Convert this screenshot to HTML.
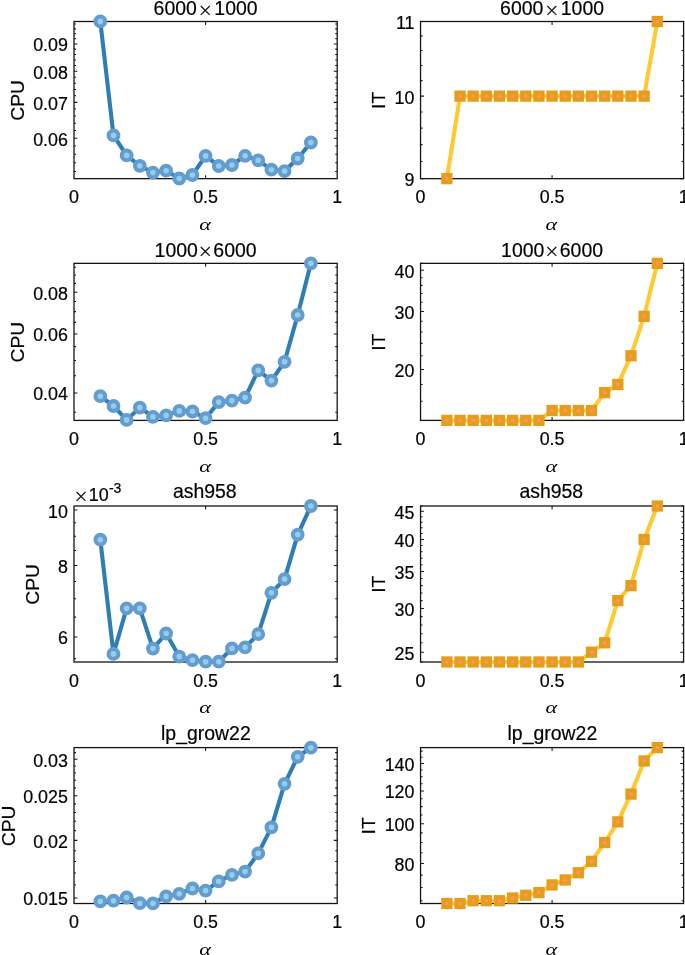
<!DOCTYPE html>
<html lang="en"><head><meta charset="utf-8"><title>CPU and IT versus alpha</title>
<style>
html,body{margin:0;padding:0;background:#fff}
svg{display:block}
text{font-family:"Liberation Sans",sans-serif;fill:#000;stroke:#000;stroke-width:0.2px}
.tk{font-size:17.85px}
.lb{font-size:19.25px}
.ti{font-size:19.45px;fill:#000}
.tx{font-family:"DejaVu Sans","Liberation Sans",sans-serif;font-weight:200;font-size:18px;stroke:#000;stroke-width:0.3px}
.tx2{font-size:22px;stroke:none}
.sup{font-size:14px}
.al{font-family:"Liberation Serif","DejaVu Serif",serif;font-style:italic;font-size:17.6px;stroke:none}
</style></head><body>
<svg width="685" height="955" viewBox="0 0 685 955">
<rect width="685" height="955" fill="#fff"/>
<rect x="74.00" y="21.50" width="263.20" height="157.15" fill="#fff" stroke="#151515" stroke-width="1.3"/>
<path d="M74.00 43.90h3.4M337.20 43.90h-3.4M74.00 71.29h3.4M337.20 71.29h-3.4M74.00 102.35h3.4M337.20 102.35h-3.4M74.00 138.20h3.4M337.20 138.20h-3.4M74.00 171.48h2.0M337.20 171.48h-2.0M74.00 162.70h2.0M337.20 162.70h-2.0M74.00 154.25h2.0M337.20 154.25h-2.0M74.00 146.08h2.0M337.20 146.08h-2.0M74.00 130.57h2.0M337.20 130.57h-2.0M74.00 123.19h2.0M337.20 123.19h-2.0M74.00 116.03h2.0M337.20 116.03h-2.0M74.00 109.09h2.0M337.20 109.09h-2.0M74.00 95.80h2.0M337.20 95.80h-2.0M74.00 89.42h2.0M337.20 89.42h-2.0M74.00 83.22h2.0M337.20 83.22h-2.0M74.00 77.18h2.0M337.20 77.18h-2.0M74.00 65.55h2.0M337.20 65.55h-2.0M74.00 59.95h2.0M337.20 59.95h-2.0M74.00 54.47h2.0M337.20 54.47h-2.0M74.00 49.13h2.0M337.20 49.13h-2.0M74.00 38.79h2.0M337.20 38.79h-2.0M74.00 33.79h2.0M337.20 33.79h-2.0M74.00 28.89h2.0M337.20 28.89h-2.0M74.00 24.09h2.0M337.20 24.09h-2.0M205.60 178.65v-3.4M205.60 21.50v3.4" stroke="#151515" stroke-width="1.05" fill="none"/>
<text x="205.60" y="14.70" class="ti" text-anchor="middle">6000<tspan class="tx" dx="0.95" dy="0.9">×</tspan><tspan dx="1.45" dy="-0.9">1000</tspan></text>
<text x="74.00" y="203.35" class="tk" text-anchor="middle">0</text>
<text x="205.60" y="203.35" class="tk" text-anchor="middle">0.5</text>
<text x="337.20" y="203.35" class="tk" text-anchor="middle">1</text>
<text transform="translate(205.00 229.95) scale(1.27 1)" class="al" text-anchor="middle">α</text>
<text x="67.90" y="51.30" class="tk" text-anchor="end">0.09</text>
<text x="67.90" y="78.69" class="tk" text-anchor="end">0.08</text>
<text x="67.90" y="109.75" class="tk" text-anchor="end">0.07</text>
<text x="67.90" y="145.60" class="tk" text-anchor="end">0.06</text>
<polyline points="100.32,21.40 113.48,135.40 126.64,155.40 139.80,165.80 152.96,172.60 166.12,170.70 179.28,178.50 192.44,175.00 205.60,155.90 218.76,166.00 231.92,165.00 245.08,155.80 258.24,160.30 271.40,169.70 284.56,171.10 297.72,158.50 310.88,142.50" fill="none" stroke="#2e7eb4" stroke-width="4.1" stroke-linejoin="round"/>
<circle cx="100.32" cy="21.40" r="4.85" fill="#93cfe7" stroke="#659cd0" stroke-width="4.1"/>
<circle cx="113.48" cy="135.40" r="4.85" fill="#93cfe7" stroke="#659cd0" stroke-width="4.1"/>
<circle cx="126.64" cy="155.40" r="4.85" fill="#93cfe7" stroke="#659cd0" stroke-width="4.1"/>
<circle cx="139.80" cy="165.80" r="4.85" fill="#93cfe7" stroke="#659cd0" stroke-width="4.1"/>
<circle cx="152.96" cy="172.60" r="4.85" fill="#93cfe7" stroke="#659cd0" stroke-width="4.1"/>
<circle cx="166.12" cy="170.70" r="4.85" fill="#93cfe7" stroke="#659cd0" stroke-width="4.1"/>
<circle cx="179.28" cy="178.50" r="4.85" fill="#93cfe7" stroke="#659cd0" stroke-width="4.1"/>
<circle cx="192.44" cy="175.00" r="4.85" fill="#93cfe7" stroke="#659cd0" stroke-width="4.1"/>
<circle cx="205.60" cy="155.90" r="4.85" fill="#93cfe7" stroke="#659cd0" stroke-width="4.1"/>
<circle cx="218.76" cy="166.00" r="4.85" fill="#93cfe7" stroke="#659cd0" stroke-width="4.1"/>
<circle cx="231.92" cy="165.00" r="4.85" fill="#93cfe7" stroke="#659cd0" stroke-width="4.1"/>
<circle cx="245.08" cy="155.80" r="4.85" fill="#93cfe7" stroke="#659cd0" stroke-width="4.1"/>
<circle cx="258.24" cy="160.30" r="4.85" fill="#93cfe7" stroke="#659cd0" stroke-width="4.1"/>
<circle cx="271.40" cy="169.70" r="4.85" fill="#93cfe7" stroke="#659cd0" stroke-width="4.1"/>
<circle cx="284.56" cy="171.10" r="4.85" fill="#93cfe7" stroke="#659cd0" stroke-width="4.1"/>
<circle cx="297.72" cy="158.50" r="4.85" fill="#93cfe7" stroke="#659cd0" stroke-width="4.1"/>
<circle cx="310.88" cy="142.50" r="4.85" fill="#93cfe7" stroke="#659cd0" stroke-width="4.1"/>
<text transform="translate(24.20 100.38) rotate(-90)" class="lb" text-anchor="middle">CPU</text>
<rect x="420.55" y="21.50" width="263.05" height="157.15" fill="#fff" stroke="#151515" stroke-width="1.3"/>
<path d="M420.55 21.50h3.4M683.60 21.50h-3.4M420.55 96.14h3.4M683.60 96.14h-3.4M420.55 178.65h3.4M683.60 178.65h-3.4M420.55 161.44h2.0M683.60 161.44h-2.0M420.55 144.60h2.0M683.60 144.60h-2.0M420.55 128.11h2.0M683.60 128.11h-2.0M420.55 111.96h2.0M683.60 111.96h-2.0M420.55 80.63h2.0M683.60 80.63h-2.0M420.55 65.42h2.0M683.60 65.42h-2.0M420.55 50.51h2.0M683.60 50.51h-2.0M420.55 35.87h2.0M683.60 35.87h-2.0M552.08 178.65v-3.4M552.08 21.50v3.4" stroke="#151515" stroke-width="1.05" fill="none"/>
<text x="552.08" y="14.70" class="ti" text-anchor="middle">6000<tspan class="tx" dx="0.95" dy="0.9">×</tspan><tspan dx="1.45" dy="-0.9">1000</tspan></text>
<text x="420.55" y="203.35" class="tk" text-anchor="middle">0</text>
<text x="552.08" y="203.35" class="tk" text-anchor="middle">0.5</text>
<text x="683.60" y="203.35" class="tk" text-anchor="middle">1</text>
<text transform="translate(551.48 229.95) scale(1.27 1)" class="al" text-anchor="middle">α</text>
<text x="414.45" y="28.90" class="tk" text-anchor="end">11</text>
<text x="414.45" y="103.54" class="tk" text-anchor="end">10</text>
<text x="414.45" y="186.05" class="tk" text-anchor="end">9</text>
<polyline points="446.86,178.65 460.01,96.14 473.16,96.14 486.31,96.14 499.47,96.14 512.62,96.14 525.77,96.14 538.92,96.14 552.08,96.14 565.23,96.14 578.38,96.14 591.53,96.14 604.69,96.14 617.84,96.14 630.99,96.14 644.14,96.14 657.30,21.50" fill="none" stroke="#fec931" stroke-width="4.1" stroke-linejoin="round"/>
<rect x="443.31" y="175.10" width="7.1" height="7.1" fill="#fd9679" stroke="#e69d1c" stroke-width="4.2"/>
<rect x="456.46" y="92.59" width="7.1" height="7.1" fill="#fd9679" stroke="#e69d1c" stroke-width="4.2"/>
<rect x="469.61" y="92.59" width="7.1" height="7.1" fill="#fd9679" stroke="#e69d1c" stroke-width="4.2"/>
<rect x="482.76" y="92.59" width="7.1" height="7.1" fill="#fd9679" stroke="#e69d1c" stroke-width="4.2"/>
<rect x="495.92" y="92.59" width="7.1" height="7.1" fill="#fd9679" stroke="#e69d1c" stroke-width="4.2"/>
<rect x="509.07" y="92.59" width="7.1" height="7.1" fill="#fd9679" stroke="#e69d1c" stroke-width="4.2"/>
<rect x="522.22" y="92.59" width="7.1" height="7.1" fill="#fd9679" stroke="#e69d1c" stroke-width="4.2"/>
<rect x="535.37" y="92.59" width="7.1" height="7.1" fill="#fd9679" stroke="#e69d1c" stroke-width="4.2"/>
<rect x="548.53" y="92.59" width="7.1" height="7.1" fill="#fd9679" stroke="#e69d1c" stroke-width="4.2"/>
<rect x="561.68" y="92.59" width="7.1" height="7.1" fill="#fd9679" stroke="#e69d1c" stroke-width="4.2"/>
<rect x="574.83" y="92.59" width="7.1" height="7.1" fill="#fd9679" stroke="#e69d1c" stroke-width="4.2"/>
<rect x="587.98" y="92.59" width="7.1" height="7.1" fill="#fd9679" stroke="#e69d1c" stroke-width="4.2"/>
<rect x="601.14" y="92.59" width="7.1" height="7.1" fill="#fd9679" stroke="#e69d1c" stroke-width="4.2"/>
<rect x="614.29" y="92.59" width="7.1" height="7.1" fill="#fd9679" stroke="#e69d1c" stroke-width="4.2"/>
<rect x="627.44" y="92.59" width="7.1" height="7.1" fill="#fd9679" stroke="#e69d1c" stroke-width="4.2"/>
<rect x="640.59" y="92.59" width="7.1" height="7.1" fill="#fd9679" stroke="#e69d1c" stroke-width="4.2"/>
<rect x="653.75" y="17.95" width="7.1" height="7.1" fill="#fd9679" stroke="#e69d1c" stroke-width="4.2"/>
<text transform="translate(385.10 100.38) rotate(-90)" class="lb" text-anchor="middle">IT</text>
<rect x="74.00" y="263.35" width="263.20" height="157.05" fill="#fff" stroke="#151515" stroke-width="1.3"/>
<path d="M74.00 292.20h3.4M337.20 292.20h-3.4M74.00 333.99h3.4M337.20 333.99h-3.4M74.00 392.90h3.4M337.20 392.90h-3.4M74.00 412.30h2.0M337.20 412.30h-2.0M74.00 375.79h2.0M337.20 375.79h-2.0M74.00 360.48h2.0M337.20 360.48h-2.0M74.00 346.64h2.0M337.20 346.64h-2.0M74.00 322.37h2.0M337.20 322.37h-2.0M74.00 311.60h2.0M337.20 311.60h-2.0M74.00 301.58h2.0M337.20 301.58h-2.0M74.00 283.39h2.0M337.20 283.39h-2.0M74.00 275.09h2.0M337.20 275.09h-2.0M74.00 267.23h2.0M337.20 267.23h-2.0M205.60 420.40v-3.4M205.60 263.35v3.4" stroke="#151515" stroke-width="1.05" fill="none"/>
<text x="205.60" y="256.55" class="ti" text-anchor="middle">1000<tspan class="tx" dx="-0.05" dy="0.9">×</tspan><tspan dx="0.45" dy="-0.9">6000</tspan></text>
<text x="74.00" y="445.10" class="tk" text-anchor="middle">0</text>
<text x="205.60" y="445.10" class="tk" text-anchor="middle">0.5</text>
<text x="337.20" y="445.10" class="tk" text-anchor="middle">1</text>
<text transform="translate(205.00 471.70) scale(1.27 1)" class="al" text-anchor="middle">α</text>
<text x="67.90" y="299.60" class="tk" text-anchor="end">0.08</text>
<text x="67.90" y="341.39" class="tk" text-anchor="end">0.06</text>
<text x="67.90" y="400.30" class="tk" text-anchor="end">0.04</text>
<polyline points="100.32,396.20 113.48,406.00 126.64,419.90 139.80,407.60 152.96,416.80 166.12,415.40 179.28,410.90 192.44,411.50 205.60,418.20 218.76,402.10 231.92,400.60 245.08,397.60 258.24,370.40 271.40,380.60 284.56,361.80 297.72,315.00 310.88,263.30" fill="none" stroke="#2e7eb4" stroke-width="4.1" stroke-linejoin="round"/>
<circle cx="100.32" cy="396.20" r="4.85" fill="#93cfe7" stroke="#659cd0" stroke-width="4.1"/>
<circle cx="113.48" cy="406.00" r="4.85" fill="#93cfe7" stroke="#659cd0" stroke-width="4.1"/>
<circle cx="126.64" cy="419.90" r="4.85" fill="#93cfe7" stroke="#659cd0" stroke-width="4.1"/>
<circle cx="139.80" cy="407.60" r="4.85" fill="#93cfe7" stroke="#659cd0" stroke-width="4.1"/>
<circle cx="152.96" cy="416.80" r="4.85" fill="#93cfe7" stroke="#659cd0" stroke-width="4.1"/>
<circle cx="166.12" cy="415.40" r="4.85" fill="#93cfe7" stroke="#659cd0" stroke-width="4.1"/>
<circle cx="179.28" cy="410.90" r="4.85" fill="#93cfe7" stroke="#659cd0" stroke-width="4.1"/>
<circle cx="192.44" cy="411.50" r="4.85" fill="#93cfe7" stroke="#659cd0" stroke-width="4.1"/>
<circle cx="205.60" cy="418.20" r="4.85" fill="#93cfe7" stroke="#659cd0" stroke-width="4.1"/>
<circle cx="218.76" cy="402.10" r="4.85" fill="#93cfe7" stroke="#659cd0" stroke-width="4.1"/>
<circle cx="231.92" cy="400.60" r="4.85" fill="#93cfe7" stroke="#659cd0" stroke-width="4.1"/>
<circle cx="245.08" cy="397.60" r="4.85" fill="#93cfe7" stroke="#659cd0" stroke-width="4.1"/>
<circle cx="258.24" cy="370.40" r="4.85" fill="#93cfe7" stroke="#659cd0" stroke-width="4.1"/>
<circle cx="271.40" cy="380.60" r="4.85" fill="#93cfe7" stroke="#659cd0" stroke-width="4.1"/>
<circle cx="284.56" cy="361.80" r="4.85" fill="#93cfe7" stroke="#659cd0" stroke-width="4.1"/>
<circle cx="297.72" cy="315.00" r="4.85" fill="#93cfe7" stroke="#659cd0" stroke-width="4.1"/>
<circle cx="310.88" cy="263.30" r="4.85" fill="#93cfe7" stroke="#659cd0" stroke-width="4.1"/>
<text transform="translate(24.20 342.18) rotate(-90)" class="lb" text-anchor="middle">CPU</text>
<rect x="420.55" y="263.35" width="263.05" height="157.05" fill="#fff" stroke="#151515" stroke-width="1.3"/>
<path d="M420.55 270.32h3.4M683.60 270.32h-3.4M420.55 311.45h3.4M683.60 311.45h-3.4M420.55 369.41h3.4M683.60 369.41h-3.4M420.55 420.40h2.0M683.60 420.40h-2.0M420.55 401.31h2.0M683.60 401.31h-2.0M420.55 384.47h2.0M683.60 384.47h-2.0M420.55 355.79h2.0M683.60 355.79h-2.0M420.55 343.35h2.0M683.60 343.35h-2.0M420.55 331.91h2.0M683.60 331.91h-2.0M420.55 321.31h2.0M683.60 321.31h-2.0M420.55 302.22h2.0M683.60 302.22h-2.0M420.55 293.56h2.0M683.60 293.56h-2.0M420.55 285.39h2.0M683.60 285.39h-2.0M420.55 277.66h2.0M683.60 277.66h-2.0M420.55 263.35h2.0M683.60 263.35h-2.0M552.08 420.40v-3.4M552.08 263.35v3.4" stroke="#151515" stroke-width="1.05" fill="none"/>
<text x="552.08" y="256.55" class="ti" text-anchor="middle">1000<tspan class="tx" dx="-0.05" dy="0.9">×</tspan><tspan dx="0.45" dy="-0.9">6000</tspan></text>
<text x="420.55" y="445.10" class="tk" text-anchor="middle">0</text>
<text x="552.08" y="445.10" class="tk" text-anchor="middle">0.5</text>
<text x="683.60" y="445.10" class="tk" text-anchor="middle">1</text>
<text transform="translate(551.48 471.70) scale(1.27 1)" class="al" text-anchor="middle">α</text>
<text x="414.45" y="277.72" class="tk" text-anchor="end">40</text>
<text x="414.45" y="318.85" class="tk" text-anchor="end">30</text>
<text x="414.45" y="376.81" class="tk" text-anchor="end">20</text>
<polyline points="446.86,420.40 460.01,420.40 473.16,420.40 486.31,420.40 499.47,420.40 512.62,420.40 525.77,420.40 538.92,420.40 552.08,410.54 565.23,410.54 578.38,410.54 591.53,410.54 604.69,392.64 617.84,384.47 630.99,355.79 644.14,316.30 657.30,263.35" fill="none" stroke="#fec931" stroke-width="4.1" stroke-linejoin="round"/>
<rect x="443.31" y="416.85" width="7.1" height="7.1" fill="#fd9679" stroke="#e69d1c" stroke-width="4.2"/>
<rect x="456.46" y="416.85" width="7.1" height="7.1" fill="#fd9679" stroke="#e69d1c" stroke-width="4.2"/>
<rect x="469.61" y="416.85" width="7.1" height="7.1" fill="#fd9679" stroke="#e69d1c" stroke-width="4.2"/>
<rect x="482.76" y="416.85" width="7.1" height="7.1" fill="#fd9679" stroke="#e69d1c" stroke-width="4.2"/>
<rect x="495.92" y="416.85" width="7.1" height="7.1" fill="#fd9679" stroke="#e69d1c" stroke-width="4.2"/>
<rect x="509.07" y="416.85" width="7.1" height="7.1" fill="#fd9679" stroke="#e69d1c" stroke-width="4.2"/>
<rect x="522.22" y="416.85" width="7.1" height="7.1" fill="#fd9679" stroke="#e69d1c" stroke-width="4.2"/>
<rect x="535.37" y="416.85" width="7.1" height="7.1" fill="#fd9679" stroke="#e69d1c" stroke-width="4.2"/>
<rect x="548.53" y="406.99" width="7.1" height="7.1" fill="#fd9679" stroke="#e69d1c" stroke-width="4.2"/>
<rect x="561.68" y="406.99" width="7.1" height="7.1" fill="#fd9679" stroke="#e69d1c" stroke-width="4.2"/>
<rect x="574.83" y="406.99" width="7.1" height="7.1" fill="#fd9679" stroke="#e69d1c" stroke-width="4.2"/>
<rect x="587.98" y="406.99" width="7.1" height="7.1" fill="#fd9679" stroke="#e69d1c" stroke-width="4.2"/>
<rect x="601.14" y="389.09" width="7.1" height="7.1" fill="#fd9679" stroke="#e69d1c" stroke-width="4.2"/>
<rect x="614.29" y="380.92" width="7.1" height="7.1" fill="#fd9679" stroke="#e69d1c" stroke-width="4.2"/>
<rect x="627.44" y="352.24" width="7.1" height="7.1" fill="#fd9679" stroke="#e69d1c" stroke-width="4.2"/>
<rect x="640.59" y="312.75" width="7.1" height="7.1" fill="#fd9679" stroke="#e69d1c" stroke-width="4.2"/>
<rect x="653.75" y="259.80" width="7.1" height="7.1" fill="#fd9679" stroke="#e69d1c" stroke-width="4.2"/>
<text transform="translate(385.10 342.18) rotate(-90)" class="lb" text-anchor="middle">IT</text>
<rect x="74.00" y="506.00" width="263.20" height="156.00" fill="#fff" stroke="#151515" stroke-width="1.3"/>
<path d="M74.00 510.00h3.4M337.20 510.00h-3.4M74.00 565.48h3.4M337.20 565.48h-3.4M74.00 637.00h3.4M337.20 637.00h-3.4M74.00 658.63h2.0M337.20 658.63h-2.0M74.00 617.10h2.0M337.20 617.10h-2.0M74.00 598.68h2.0M337.20 598.68h-2.0M74.00 581.52h2.0M337.20 581.52h-2.0M74.00 550.40h2.0M337.20 550.40h-2.0M74.00 536.19h2.0M337.20 536.19h-2.0M74.00 522.75h2.0M337.20 522.75h-2.0M205.60 662.00v-3.4M205.60 506.00v3.4" stroke="#151515" stroke-width="1.05" fill="none"/>
<text x="204.80" y="498.45" class="ti" text-anchor="middle">ash958</text>
<text x="74.00" y="686.70" class="tk" text-anchor="middle">0</text>
<text x="205.60" y="686.70" class="tk" text-anchor="middle">0.5</text>
<text x="337.20" y="686.70" class="tk" text-anchor="middle">1</text>
<text transform="translate(205.00 713.30) scale(1.27 1)" class="al" text-anchor="middle">α</text>
<text x="67.90" y="517.90" class="tk" text-anchor="end">10</text>
<text x="67.90" y="572.88" class="tk" text-anchor="end">8</text>
<text x="67.90" y="644.40" class="tk" text-anchor="end">6</text>
<polyline points="100.32,539.70 113.48,653.90 126.64,608.30 139.80,608.30 152.96,648.60 166.12,633.50 179.28,656.60 192.44,660.20 205.60,661.70 218.76,661.70 231.92,648.40 245.08,647.40 258.24,634.10 271.40,592.80 284.56,579.10 297.72,534.60 310.88,506.00" fill="none" stroke="#2e7eb4" stroke-width="4.1" stroke-linejoin="round"/>
<circle cx="100.32" cy="539.70" r="4.85" fill="#93cfe7" stroke="#659cd0" stroke-width="4.1"/>
<circle cx="113.48" cy="653.90" r="4.85" fill="#93cfe7" stroke="#659cd0" stroke-width="4.1"/>
<circle cx="126.64" cy="608.30" r="4.85" fill="#93cfe7" stroke="#659cd0" stroke-width="4.1"/>
<circle cx="139.80" cy="608.30" r="4.85" fill="#93cfe7" stroke="#659cd0" stroke-width="4.1"/>
<circle cx="152.96" cy="648.60" r="4.85" fill="#93cfe7" stroke="#659cd0" stroke-width="4.1"/>
<circle cx="166.12" cy="633.50" r="4.85" fill="#93cfe7" stroke="#659cd0" stroke-width="4.1"/>
<circle cx="179.28" cy="656.60" r="4.85" fill="#93cfe7" stroke="#659cd0" stroke-width="4.1"/>
<circle cx="192.44" cy="660.20" r="4.85" fill="#93cfe7" stroke="#659cd0" stroke-width="4.1"/>
<circle cx="205.60" cy="661.70" r="4.85" fill="#93cfe7" stroke="#659cd0" stroke-width="4.1"/>
<circle cx="218.76" cy="661.70" r="4.85" fill="#93cfe7" stroke="#659cd0" stroke-width="4.1"/>
<circle cx="231.92" cy="648.40" r="4.85" fill="#93cfe7" stroke="#659cd0" stroke-width="4.1"/>
<circle cx="245.08" cy="647.40" r="4.85" fill="#93cfe7" stroke="#659cd0" stroke-width="4.1"/>
<circle cx="258.24" cy="634.10" r="4.85" fill="#93cfe7" stroke="#659cd0" stroke-width="4.1"/>
<circle cx="271.40" cy="592.80" r="4.85" fill="#93cfe7" stroke="#659cd0" stroke-width="4.1"/>
<circle cx="284.56" cy="579.10" r="4.85" fill="#93cfe7" stroke="#659cd0" stroke-width="4.1"/>
<circle cx="297.72" cy="534.60" r="4.85" fill="#93cfe7" stroke="#659cd0" stroke-width="4.1"/>
<circle cx="310.88" cy="506.00" r="4.85" fill="#93cfe7" stroke="#659cd0" stroke-width="4.1"/>
<text transform="translate(39.00 584.30) rotate(-90)" class="lb" text-anchor="middle">CPU</text>
<text x="73.60" y="501.30" class="tk"><tspan class="tx" dy="1.0">×</tspan><tspan dx="0.15" dy="-0.9">10</tspan><tspan dy="-8.5" dx="0.25" class="sup">-3</tspan></text>
<rect x="420.55" y="506.00" width="263.05" height="156.00" fill="#fff" stroke="#151515" stroke-width="1.3"/>
<path d="M420.55 511.27h3.4M683.60 511.27h-3.4M420.55 539.51h3.4M683.60 539.51h-3.4M420.55 571.53h3.4M683.60 571.53h-3.4M420.55 608.49h3.4M683.60 608.49h-3.4M420.55 652.21h3.4M683.60 652.21h-3.4M420.55 662.00h2.0M683.60 662.00h-2.0M420.55 642.81h2.0M683.60 642.81h-2.0M420.55 633.76h2.0M683.60 633.76h-2.0M420.55 625.04h2.0M683.60 625.04h-2.0M420.55 616.62h2.0M683.60 616.62h-2.0M420.55 600.63h2.0M683.60 600.63h-2.0M420.55 593.02h2.0M683.60 593.02h-2.0M420.55 585.64h2.0M683.60 585.64h-2.0M420.55 578.48h2.0M683.60 578.48h-2.0M420.55 564.78h2.0M683.60 564.78h-2.0M420.55 558.21h2.0M683.60 558.21h-2.0M420.55 551.81h2.0M683.60 551.81h-2.0M420.55 545.58h2.0M683.60 545.58h-2.0M420.55 533.59h2.0M683.60 533.59h-2.0M420.55 527.81h2.0M683.60 527.81h-2.0M420.55 522.17h2.0M683.60 522.17h-2.0M420.55 516.66h2.0M683.60 516.66h-2.0M420.55 506.00h2.0M683.60 506.00h-2.0M552.08 662.00v-3.4M552.08 506.00v3.4" stroke="#151515" stroke-width="1.05" fill="none"/>
<text x="551.28" y="498.45" class="ti" text-anchor="middle">ash958</text>
<text x="420.55" y="686.70" class="tk" text-anchor="middle">0</text>
<text x="552.08" y="686.70" class="tk" text-anchor="middle">0.5</text>
<text x="683.60" y="686.70" class="tk" text-anchor="middle">1</text>
<text transform="translate(551.48 713.30) scale(1.27 1)" class="al" text-anchor="middle">α</text>
<text x="414.45" y="518.67" class="tk" text-anchor="end">45</text>
<text x="414.45" y="546.91" class="tk" text-anchor="end">40</text>
<text x="414.45" y="578.93" class="tk" text-anchor="end">35</text>
<text x="414.45" y="615.89" class="tk" text-anchor="end">30</text>
<text x="414.45" y="659.61" class="tk" text-anchor="end">25</text>
<polyline points="446.86,662.00 460.01,662.00 473.16,662.00 486.31,662.00 499.47,662.00 512.62,662.00 525.77,662.00 538.92,662.00 552.08,662.00 565.23,662.00 578.38,662.00 591.53,652.21 604.69,642.81 617.84,600.63 630.99,585.64 644.14,539.51 657.30,506.00" fill="none" stroke="#fec931" stroke-width="4.1" stroke-linejoin="round"/>
<rect x="443.31" y="658.45" width="7.1" height="7.1" fill="#fd9679" stroke="#e69d1c" stroke-width="4.2"/>
<rect x="456.46" y="658.45" width="7.1" height="7.1" fill="#fd9679" stroke="#e69d1c" stroke-width="4.2"/>
<rect x="469.61" y="658.45" width="7.1" height="7.1" fill="#fd9679" stroke="#e69d1c" stroke-width="4.2"/>
<rect x="482.76" y="658.45" width="7.1" height="7.1" fill="#fd9679" stroke="#e69d1c" stroke-width="4.2"/>
<rect x="495.92" y="658.45" width="7.1" height="7.1" fill="#fd9679" stroke="#e69d1c" stroke-width="4.2"/>
<rect x="509.07" y="658.45" width="7.1" height="7.1" fill="#fd9679" stroke="#e69d1c" stroke-width="4.2"/>
<rect x="522.22" y="658.45" width="7.1" height="7.1" fill="#fd9679" stroke="#e69d1c" stroke-width="4.2"/>
<rect x="535.37" y="658.45" width="7.1" height="7.1" fill="#fd9679" stroke="#e69d1c" stroke-width="4.2"/>
<rect x="548.53" y="658.45" width="7.1" height="7.1" fill="#fd9679" stroke="#e69d1c" stroke-width="4.2"/>
<rect x="561.68" y="658.45" width="7.1" height="7.1" fill="#fd9679" stroke="#e69d1c" stroke-width="4.2"/>
<rect x="574.83" y="658.45" width="7.1" height="7.1" fill="#fd9679" stroke="#e69d1c" stroke-width="4.2"/>
<rect x="587.98" y="648.66" width="7.1" height="7.1" fill="#fd9679" stroke="#e69d1c" stroke-width="4.2"/>
<rect x="601.14" y="639.26" width="7.1" height="7.1" fill="#fd9679" stroke="#e69d1c" stroke-width="4.2"/>
<rect x="614.29" y="597.08" width="7.1" height="7.1" fill="#fd9679" stroke="#e69d1c" stroke-width="4.2"/>
<rect x="627.44" y="582.09" width="7.1" height="7.1" fill="#fd9679" stroke="#e69d1c" stroke-width="4.2"/>
<rect x="640.59" y="535.96" width="7.1" height="7.1" fill="#fd9679" stroke="#e69d1c" stroke-width="4.2"/>
<rect x="653.75" y="502.45" width="7.1" height="7.1" fill="#fd9679" stroke="#e69d1c" stroke-width="4.2"/>
<text transform="translate(384.90 584.30) rotate(-90)" class="lb" text-anchor="middle">IT</text>
<rect x="74.00" y="747.60" width="263.20" height="155.90" fill="#fff" stroke="#151515" stroke-width="1.3"/>
<path d="M74.00 759.20h3.4M337.20 759.20h-3.4M74.00 795.71h3.4M337.20 795.71h-3.4M74.00 840.39h3.4M337.20 840.39h-3.4M74.00 898.00h3.4M337.20 898.00h-3.4M74.00 885.08h2.0M337.20 885.08h-2.0M74.00 872.94h2.0M337.20 872.94h-2.0M74.00 861.49h2.0M337.20 861.49h-2.0M74.00 850.66h2.0M337.20 850.66h-2.0M74.00 830.62h2.0M337.20 830.62h-2.0M74.00 821.31h2.0M337.20 821.31h-2.0M74.00 812.41h2.0M337.20 812.41h-2.0M74.00 803.88h2.0M337.20 803.88h-2.0M74.00 787.86h2.0M337.20 787.86h-2.0M74.00 780.30h2.0M337.20 780.30h-2.0M74.00 773.02h2.0M337.20 773.02h-2.0M74.00 765.99h2.0M337.20 765.99h-2.0M74.00 752.63h2.0M337.20 752.63h-2.0M205.60 903.50v-3.4M205.60 747.60v3.4" stroke="#151515" stroke-width="1.05" fill="none"/>
<text x="205.90" y="740.05" class="ti" text-anchor="middle">lp_grow22</text>
<text x="74.00" y="928.20" class="tk" text-anchor="middle">0</text>
<text x="205.60" y="928.20" class="tk" text-anchor="middle">0.5</text>
<text x="337.20" y="928.20" class="tk" text-anchor="middle">1</text>
<text transform="translate(205.00 954.80) scale(1.27 1)" class="al" text-anchor="middle">α</text>
<text x="67.90" y="766.60" class="tk" text-anchor="end">0.03</text>
<text x="67.90" y="803.11" class="tk" text-anchor="end">0.025</text>
<text x="67.90" y="847.79" class="tk" text-anchor="end">0.02</text>
<text x="67.90" y="905.40" class="tk" text-anchor="end">0.015</text>
<polyline points="100.32,901.30 113.48,900.70 126.64,897.50 139.80,903.20 152.96,903.40 166.12,896.40 179.28,893.80 192.44,888.50 205.60,890.60 218.76,881.40 231.92,874.90 245.08,871.60 258.24,853.40 271.40,827.30 284.56,783.80 297.72,756.80 310.88,747.70" fill="none" stroke="#2e7eb4" stroke-width="4.1" stroke-linejoin="round"/>
<circle cx="100.32" cy="901.30" r="4.85" fill="#93cfe7" stroke="#659cd0" stroke-width="4.1"/>
<circle cx="113.48" cy="900.70" r="4.85" fill="#93cfe7" stroke="#659cd0" stroke-width="4.1"/>
<circle cx="126.64" cy="897.50" r="4.85" fill="#93cfe7" stroke="#659cd0" stroke-width="4.1"/>
<circle cx="139.80" cy="903.20" r="4.85" fill="#93cfe7" stroke="#659cd0" stroke-width="4.1"/>
<circle cx="152.96" cy="903.40" r="4.85" fill="#93cfe7" stroke="#659cd0" stroke-width="4.1"/>
<circle cx="166.12" cy="896.40" r="4.85" fill="#93cfe7" stroke="#659cd0" stroke-width="4.1"/>
<circle cx="179.28" cy="893.80" r="4.85" fill="#93cfe7" stroke="#659cd0" stroke-width="4.1"/>
<circle cx="192.44" cy="888.50" r="4.85" fill="#93cfe7" stroke="#659cd0" stroke-width="4.1"/>
<circle cx="205.60" cy="890.60" r="4.85" fill="#93cfe7" stroke="#659cd0" stroke-width="4.1"/>
<circle cx="218.76" cy="881.40" r="4.85" fill="#93cfe7" stroke="#659cd0" stroke-width="4.1"/>
<circle cx="231.92" cy="874.90" r="4.85" fill="#93cfe7" stroke="#659cd0" stroke-width="4.1"/>
<circle cx="245.08" cy="871.60" r="4.85" fill="#93cfe7" stroke="#659cd0" stroke-width="4.1"/>
<circle cx="258.24" cy="853.40" r="4.85" fill="#93cfe7" stroke="#659cd0" stroke-width="4.1"/>
<circle cx="271.40" cy="827.30" r="4.85" fill="#93cfe7" stroke="#659cd0" stroke-width="4.1"/>
<circle cx="284.56" cy="783.80" r="4.85" fill="#93cfe7" stroke="#659cd0" stroke-width="4.1"/>
<circle cx="297.72" cy="756.80" r="4.85" fill="#93cfe7" stroke="#659cd0" stroke-width="4.1"/>
<circle cx="310.88" cy="747.70" r="4.85" fill="#93cfe7" stroke="#659cd0" stroke-width="4.1"/>
<text transform="translate(15.00 825.85) rotate(-90)" class="lb" text-anchor="middle">CPU</text>
<rect x="420.55" y="747.60" width="263.05" height="155.90" fill="#fff" stroke="#151515" stroke-width="1.3"/>
<path d="M420.55 763.48h3.4M683.60 763.48h-3.4M420.55 791.06h3.4M683.60 791.06h-3.4M420.55 823.67h3.4M683.60 823.67h-3.4M420.55 863.59h3.4M683.60 863.59h-3.4M420.55 900.73h2.0M683.60 900.73h-2.0M420.55 887.47h2.0M683.60 887.47h-2.0M420.55 875.13h2.0M683.60 875.13h-2.0M420.55 852.74h2.0M683.60 852.74h-2.0M420.55 842.52h2.0M683.60 842.52h-2.0M420.55 832.85h2.0M683.60 832.85h-2.0M420.55 814.94h2.0M683.60 814.94h-2.0M420.55 806.62h2.0M683.60 806.62h-2.0M420.55 798.67h2.0M683.60 798.67h-2.0M420.55 783.76h2.0M683.60 783.76h-2.0M420.55 776.74h2.0M683.60 776.74h-2.0M420.55 769.99h2.0M683.60 769.99h-2.0M420.55 757.21h2.0M683.60 757.21h-2.0M420.55 751.14h2.0M683.60 751.14h-2.0M552.08 903.50v-3.4M552.08 747.60v3.4" stroke="#151515" stroke-width="1.05" fill="none"/>
<text x="552.38" y="740.05" class="ti" text-anchor="middle">lp_grow22</text>
<text x="420.55" y="928.20" class="tk" text-anchor="middle">0</text>
<text x="552.08" y="928.20" class="tk" text-anchor="middle">0.5</text>
<text x="683.60" y="928.20" class="tk" text-anchor="middle">1</text>
<text transform="translate(551.48 954.80) scale(1.27 1)" class="al" text-anchor="middle">α</text>
<text x="414.45" y="770.88" class="tk" text-anchor="end">140</text>
<text x="414.45" y="798.46" class="tk" text-anchor="end">120</text>
<text x="414.45" y="831.07" class="tk" text-anchor="end">100</text>
<text x="414.45" y="870.99" class="tk" text-anchor="end">80</text>
<polyline points="446.86,903.50 460.01,903.50 473.16,900.73 486.31,900.73 499.47,900.73 512.62,898.00 525.77,895.31 538.92,892.66 552.08,884.93 565.23,879.96 578.38,872.76 591.53,861.36 604.69,842.52 617.84,821.89 630.99,794.06 644.14,760.95 657.30,747.60" fill="none" stroke="#fec931" stroke-width="4.1" stroke-linejoin="round"/>
<rect x="443.31" y="899.95" width="7.1" height="7.1" fill="#fd9679" stroke="#e69d1c" stroke-width="4.2"/>
<rect x="456.46" y="899.95" width="7.1" height="7.1" fill="#fd9679" stroke="#e69d1c" stroke-width="4.2"/>
<rect x="469.61" y="897.18" width="7.1" height="7.1" fill="#fd9679" stroke="#e69d1c" stroke-width="4.2"/>
<rect x="482.76" y="897.18" width="7.1" height="7.1" fill="#fd9679" stroke="#e69d1c" stroke-width="4.2"/>
<rect x="495.92" y="897.18" width="7.1" height="7.1" fill="#fd9679" stroke="#e69d1c" stroke-width="4.2"/>
<rect x="509.07" y="894.45" width="7.1" height="7.1" fill="#fd9679" stroke="#e69d1c" stroke-width="4.2"/>
<rect x="522.22" y="891.76" width="7.1" height="7.1" fill="#fd9679" stroke="#e69d1c" stroke-width="4.2"/>
<rect x="535.37" y="889.11" width="7.1" height="7.1" fill="#fd9679" stroke="#e69d1c" stroke-width="4.2"/>
<rect x="548.53" y="881.38" width="7.1" height="7.1" fill="#fd9679" stroke="#e69d1c" stroke-width="4.2"/>
<rect x="561.68" y="876.41" width="7.1" height="7.1" fill="#fd9679" stroke="#e69d1c" stroke-width="4.2"/>
<rect x="574.83" y="869.21" width="7.1" height="7.1" fill="#fd9679" stroke="#e69d1c" stroke-width="4.2"/>
<rect x="587.98" y="857.81" width="7.1" height="7.1" fill="#fd9679" stroke="#e69d1c" stroke-width="4.2"/>
<rect x="601.14" y="838.97" width="7.1" height="7.1" fill="#fd9679" stroke="#e69d1c" stroke-width="4.2"/>
<rect x="614.29" y="818.34" width="7.1" height="7.1" fill="#fd9679" stroke="#e69d1c" stroke-width="4.2"/>
<rect x="627.44" y="790.51" width="7.1" height="7.1" fill="#fd9679" stroke="#e69d1c" stroke-width="4.2"/>
<rect x="640.59" y="757.40" width="7.1" height="7.1" fill="#fd9679" stroke="#e69d1c" stroke-width="4.2"/>
<rect x="653.75" y="744.05" width="7.1" height="7.1" fill="#fd9679" stroke="#e69d1c" stroke-width="4.2"/>
<text transform="translate(374.90 825.85) rotate(-90)" class="lb" text-anchor="middle">IT</text>
</svg>
</body></html>
